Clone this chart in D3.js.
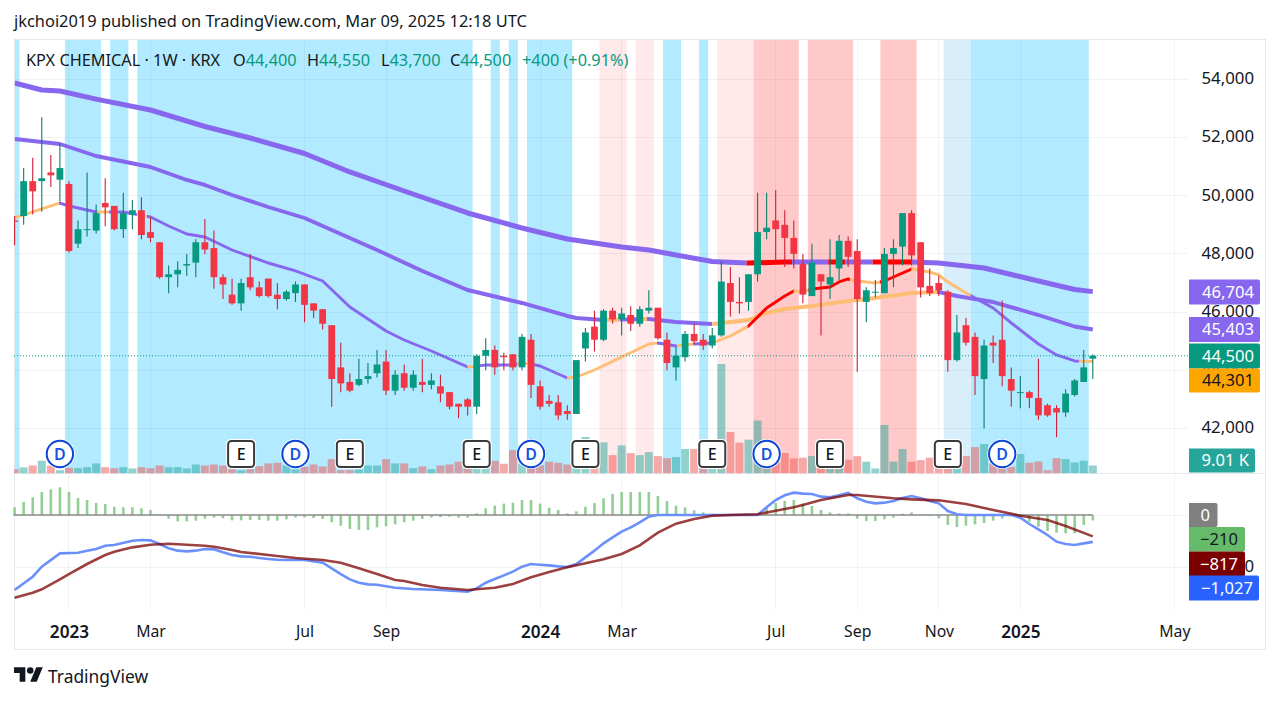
<!DOCTYPE html>
<html>
<head>
<meta charset="utf-8">
<style>
	html, body { margin: 0; padding: 0; background: #fff; }
	svg { display: block; }
	text { font-family: "Noto Sans", sans-serif; fill: #131722; }
</style>
<script src="https://cdn.jsdelivr.net/npm/d3@7"></script>
</head>
<body>
<div id="chart"></div>
<script>
// weekly candles, index 0 = 2022-11-21, index 119 = 2025-03-03
var opens = [
	49150,49300,50500,50500,50800,50550,50400,48350,48850,48800,
	49750,49650,48850,49350,49500,48750,48400,47200,47300,47600,
	47700,48400,48200,47200,46600,46300,47200,46850,47150,46600,
	46450,46650,46950,46300,46100,45550,44100,43600,43500,43700,
	43900,44300,43300,43900,43400,43600,43500,43450,43250,42850,
	43000,42750,44500,44700,44500,44550,44100,45050,43450,42950,
	42900,42600,42500,44750,45500,45050,46050,45750,45900,45600,
	46050,46150,45050,44100,44450,45250,45050,44850,45200,47000,
	46350,46350,47300,48750,49150,49000,48550,47650,46550,47300,
	46950,47500,48450,48100,46350,46700,46650,48000,48250,49400,
	48400,46900,47000,46700,44350,45550,45150,43700,44950,45050,
	43700,43250,43250,43050,42800,42700,42550,43150,43600,44400
];
var highs = [
	49300,50950,51300,52700,51400,51800,50500,49150,50800,49700,
	50600,49650,50100,49850,49950,49250,48400,47600,47750,48000,
	48500,49200,48800,47300,47150,47150,48000,47050,47150,47000,
	46750,47050,46950,46300,46100,45550,44950,43900,44400,44250,
	44700,44700,44000,44200,44000,44400,43900,43850,43250,42850,
	43050,44550,45100,44850,44600,44550,45250,45250,43650,43150,
	43150,42800,44350,45450,46050,46100,46150,46150,46200,46200,
	46750,46150,45300,44800,45350,45600,45250,45450,47750,47550,
	47200,47300,50100,50100,50200,49500,49150,48000,48350,47300,
	48500,48650,48600,48500,46850,47100,48200,48500,49400,49500,
	48400,47500,47250,46750,45900,45800,45300,45050,45200,46400,
	44100,43800,43300,44400,42850,42800,43350,43700,44700,44550
];
var lows = [
	48300,49000,49350,49450,50300,49800,48050,48200,48600,48700,
	48950,48800,48550,48850,48500,48400,47150,46650,46850,47250,
	47200,48000,46800,46450,46250,46050,46750,46500,46500,46100,
	46400,46350,45650,45800,45400,42750,43250,43250,43450,43550,
	43750,43150,43150,43300,43300,43250,43350,42900,42650,42350,
	42450,42500,44000,43850,44000,44000,44000,43050,42650,42750,
	42300,42300,42500,44300,44650,45000,45600,45200,45350,45500,
	45950,45050,44000,43650,44300,44900,44700,44750,45150,45850,
	45950,46050,47050,48500,47700,47550,47500,46300,46550,45200,
	46450,47100,47550,43950,45650,46500,46650,46850,47600,47600,
	46500,46550,46550,43950,44300,44850,43150,42000,44250,43450,
	42750,42700,42700,42300,42400,41700,42400,43100,43600,43700
];
var closes = [
	49100,50500,50150,50600,50700,50950,48100,48850,48850,49400,
	49600,48850,49400,49500,48650,48550,47200,47300,47450,47650,
	48400,48150,47200,46950,46300,47000,46850,46550,46550,46450,
	46700,46950,46250,46050,45600,43700,43550,43300,43700,43800,
	44200,43300,43850,43400,43850,43500,43650,43200,42750,42750,
	42750,44500,44700,44100,44450,44100,45150,43500,42750,42850,
	42450,42500,44350,45300,45050,46050,45750,45950,45600,46100,
	46150,45100,44250,44500,45250,45000,44850,45200,47050,46350,
	46300,47300,48750,48900,48850,48550,48000,46600,47700,47050,
	47200,48450,47900,46450,46750,46700,48000,48200,49400,47950,
	46850,46650,46750,44350,45300,44950,43800,44850,44850,43800,
	43300,43250,43050,42450,42450,42550,43200,43650,44100,44500
];
// volume in thousands
var volumes = [
	4.8,6.8,9,14.3,9,3.7,6.4,6,7.1,11.3,
	7.1,6,7.1,5.6,7.1,6,9,7.1,7.1,5.6,
	10.1,9,10.1,9,4.8,3.7,4.8,8.2,11.3,12,
	9,4.5,7.5,10.1,7.9,16.1,3.7,3.7,4.5,9,
	9,16.1,11.3,11.3,6,7.9,4.8,9,10.1,13.2,
	6.8,6.8,6.8,14.3,10.9,26.2,11.3,6.8,9.3,13.2,
	12,10.1,15.8,40.9,13.5,34.9,20.6,31.5,22.9,20.6,
	24,19.5,17.2,18.4,27.4,27.4,13.5,13.5,122.7,46.5,
	34.6,37.9,59.3,16.9,20.3,22.9,16.9,17.7,19.5,11.3,
	11.3,11.3,15.4,19.5,13.2,5.6,54.4,13.2,27.4,13.2,
	15,17.7,9,11.3,9,19.5,29.6,33,11.3,9,
	7.5,21.7,12,13.5,3.7,17.2,16.1,12.4,14.3,9.01
];

// moving averages, read at the weeks in *Idx
var maSlowIdx = [0,3,5,9,15,21,26,32,37,43,50,56,61,67,70,73,77,81,85,92,99,102,107,113,117,119];
var maSlowVals = [53873,53632,53598,53320,52945,52378,51983,51450,50815,50162,49406,48890,48512,48237,48134,47962,47739,47687,47722,47722,47722,47687,47516,47069,46777,46704];
var maMidIdx = [0,5,9,15,19,21,24,28,32,35,40,45,50,56,61,62,65,70,73,77,81,83,85,88,92,95,99,102,104,108,113,117,119];
var maMidVals = [51949,51777,51364,50986,50540,50368,50024,49612,49234,48821,48134,47413,46760,46313,45866,45797,45729,45763,45660,45591,45729,45969,46107,46210,46382,46485,46657,46691,46553,46347,45900,45505,45403];
var maFastIdx = [0,5,6,9,12,15,17,19,21,24,28,31,34,37,39,41,43,46,50,52,55,56,57,58,61,62,64,67,70,71,73,75,77,79,81,83,85,86,87,88,90,91,92,93,95,96,97,99,101,102,103,105,106,108,110,113,115,117,119];
var maFastVals = [49234,49749,49646,49440,49440,49268,48959,48684,48581,48134,47687,47413,47069,46175,45763,45351,45041,44663,44114,44182,44182,44251,44216,44148,43736,43770,44010,44457,44904,44938,44835,44904,44938,45179,45523,46141,46553,46725,46691,46794,46863,47035,47138,47069,47000,47069,47206,47481,47378,47275,47035,46657,46485,46141,45626,44904,44526,44320,44301];

// colour state of each average: [from week, to week, state]
var maSlowStates = [[0,80.8,"below"],[80.8,85.8,"strong"],[85.8,89.8,"below"],[89.8,91.7,"strong"],[91.7,94.7,"below"],[94.7,99,"strong"],[99,119.5,"below"]];
var maMidStates = [[0,65.4,"below"],[65.4,66.8,"above"],[66.8,68.8,"below"],[68.8,69.8,"above"],[69.8,77,"below"],[77,101.8,"above"],[101.8,119.5,"below"]];
var maFastStates = [[0,4.9,"above"],[4.9,9.1,"below"],[9.1,10.4,"above"],[10.4,13.5,"below"],[13.5,14.6,"above"],[14.6,50,"below"],[50,51.2,"above"],[51.2,55.5,"below"],[55.5,56.7,"above"],[56.7,61,"below"],[61,70.9,"above"],[70.9,73.1,"below"],[73.1,74.9,"above"],[74.9,77,"below"],[77,80.9,"above"],[80.9,86,"strong"],[86,87.6,"above"],[87.6,92.2,"strong"],[92.2,95.5,"above"],[95.5,99,"strong"],[99,105.5,"above"],[105.5,117.5,"below"],[117.5,119.5,"above"]];

// background bands: [first week, last week, kind]
var bands = [
	[0,0,"blue"],[6,9,"blue"],[11,12,"blue"],[14,50,"blue"],[53,53,"blue"],[55,55,"blue"],[57,61,"blue"],
	[65,67,"blush"],[69,70,"blush"],[72,73,"blue"],[76,76,"blue"],[78,81,"blush"],
	[82,86,"rose"],[88,92,"rose"],[96,99,"rose"],[103,105,"pale"],[106,118,"blue"]
];

// MACD pane
var macdIdx = [0,2,3,5,7,8,9,10,11,13,14,15,16,17,18,19,20,21,22,23,24,25,26,27,28,29,30,32,34,35,36,37,38,39,40,42,44,47,50,51,52,53,54,55,56,57,58,59,60,61,62,63,64,65,66,67,68,69,70,71,82,83,84,85,86,87,88,89,90,91,92,93,94,95,96,97,98,99,100,101,102,103,104,105,110,111,112,113,114,115,116,117,118,119];
var macdVals = [-2869,-2359,-1976,-1466,-1441,-1364,-1300,-1173,-1148,-982,-956,-969,-1109,-1275,-1364,-1390,-1364,-1300,-1313,-1428,-1530,-1581,-1594,-1645,-1683,-1709,-1721,-1721,-1823,-2040,-2257,-2461,-2588,-2652,-2665,-2780,-2830,-2869,-2933,-2805,-2588,-2448,-2308,-2168,-1976,-1874,-1900,-1925,-1964,-1989,-1874,-1619,-1364,-1084,-854,-638,-472,-281,-64,0,0,293,574,752,854,816,803,701,676,752,842,638,510,446,472,536,650,727,638,536,446,153,26,0,0,-102,-344,-548,-765,-1020,-1109,-1148,-1084,-1027];
var signalIdx = [0,2,3,5,6,8,10,11,13,15,17,19,21,22,24,25,28,31,34,36,38,40,42,43,45,47,50,53,55,57,59,61,63,65,67,69,71,73,75,77,79,82,84,86,87,89,92,93,97,99,102,105,108,111,114,116,119];
var signalVals = [-3162,-2971,-2843,-2461,-2257,-1874,-1530,-1403,-1237,-1135,-1097,-1135,-1173,-1211,-1339,-1415,-1530,-1645,-1721,-1823,-2040,-2257,-2486,-2525,-2678,-2780,-2869,-2780,-2639,-2384,-2180,-2002,-1849,-1696,-1492,-1160,-676,-332,-153,-26,0,26,166,300,383,574,765,765,638,599,561,421,191,-26,-191,-421,-817];
var histVals = [
	293,497,676,880,982,1058,880,650,574,459,
	421,319,293,293,255,191,13,-140,-242,-242,
	-217,-140,-102,-128,-204,-204,-191,-191,-217,-217,
	-166,-102,-89,-115,-153,-280,-408,-536,-574,-574,
	-472,-434,-357,-280,-217,-153,-102,-77,-64,-102,
	-102,64,255,357,434,472,574,574,434,280,
	191,64,140,319,459,638,803,880,880,880,
	880,727,536,357,293,179,102,51,26,13,
	13,13,13,293,459,536,574,446,344,191,
	102,64,64,-140,-230,-230,-166,-102,51,102,
	26,-38,-128,-383,-459,-408,-357,-306,-217,-140,
	0,-128,-255,-446,-612,-676,-701,-701,-383,-210
];

// tick labels
var priceTicks = [54000,52000,50000,48000,46000,44000,42000];
var macdTicks = [0,-2000];
var timeTickIdx = [6,15,32,41,58,67,84,93,102,111,128];
var timeTickLabels = ["2023","Mar","Jul","Sep","2024","Mar","Jul","Sep","Nov","2025","May"];
var yearLabels = ["2023","2024","2025"];

// event markers by week
var dividendIdx = [5,31,57,83,109];
var earningsIdx = [25,37,51,63,77,90,103];

var lastClose = 44500;

var WIDTH = 1280, HEIGHT = 701;
var LEFT = 14, PLOT_RIGHT = 1188, RIGHT = 1265;
var TOP = 39, PRICE_BOTTOM = 473.5, MACD_BOTTOM = 610, AXIS_BOTTOM = 649.5;

var UP = "#089981", DOWN = "#f23645";
var BAND_COLORS = { blue: "#b2ebff", blush: "#ffe9ea", rose: "#ffc9c9", pale: "#d8eefa" };
var STATE_COLORS = { below: "#8667ee", above: "#ffbe73", strong: "#ff0000" };

var x = d3.scaleLinear().domain([0, 119]).range([14.6, 1092.8]);
var y = d3.scaleLinear().domain([42000, 54000]).range([428.5, 79.3]);
var yVol = d3.scaleLinear().domain([0, 122.7]).range([PRICE_BOTTOM, 364]);
var yMacd = d3.scaleLinear().domain([-2000, 0]).range([567.3, 515]);

var svg = d3.select("#chart").append("svg")
	.attr("width", WIDTH)
	.attr("height", HEIGHT)
	.attr("viewBox", "0 0 " + WIDTH + " " + HEIGHT);
var defs = svg.append("defs");

defs.append("clipPath").attr("id", "plot-clip")
	.append("rect")
	.attr("x", LEFT).attr("y", TOP)
	.attr("width", PLOT_RIGHT - LEFT).attr("height", PRICE_BOTTOM - TOP);

svg.append("text")
	.attr("x", 14).attr("y", 27)
	.style("font-size", "16.4px")
	.text("jkchoi2019 published on TradingView.com, Mar 09, 2025 12:18 UTC");

// background bands
svg.append("g").attr("clip-path", "url(#plot-clip)")
	.selectAll("rect").data(bands).enter().append("rect")
	.attr("x", function(d) { return x(d[0] - 0.45); })
	.attr("width", function(d) { return x(d[1] + 0.5) - x(d[0] - 0.5); })
	.attr("y", TOP)
	.attr("height", PRICE_BOTTOM - TOP)
	.attr("fill", function(d) { return BAND_COLORS[d[2]]; });

// grid over the bands, faint enough to let them through
var grid = svg.append("g")
	.attr("stroke", "rgba(42,46,57,0.06)")
	.attr("stroke-width", 1)
	.attr("shape-rendering", "crispEdges");
priceTicks.forEach(function(p) {
	grid.append("line").attr("x1", LEFT).attr("x2", PLOT_RIGHT).attr("y1", y(p)).attr("y2", y(p));
});
macdTicks.forEach(function(m) {
	grid.append("line").attr("x1", LEFT).attr("x2", PLOT_RIGHT).attr("y1", yMacd(m)).attr("y2", yMacd(m));
});
timeTickIdx.forEach(function(i) {
	grid.append("line").attr("x1", x(i)).attr("x2", x(i)).attr("y1", TOP).attr("y2", MACD_BOTTOM);
});

// frame
var frame = svg.append("g")
	.attr("stroke", "#e6e8ee")
	.attr("stroke-width", 1)
	.attr("shape-rendering", "crispEdges");
frame.append("line").attr("x1", LEFT).attr("x2", RIGHT).attr("y1", TOP).attr("y2", TOP);
frame.append("line").attr("x1", LEFT).attr("x2", RIGHT).attr("y1", PRICE_BOTTOM).attr("y2", PRICE_BOTTOM);
frame.append("line").attr("x1", LEFT).attr("x2", RIGHT).attr("y1", AXIS_BOTTOM).attr("y2", AXIS_BOTTOM);
frame.append("line").attr("x1", LEFT).attr("x2", LEFT).attr("y1", TOP).attr("y2", AXIS_BOTTOM);
frame.append("line").attr("x1", RIGHT).attr("x2", RIGHT).attr("y1", TOP).attr("y2", AXIS_BOTTOM);

// volume
svg.append("g").attr("clip-path", "url(#plot-clip)")
	.selectAll("rect").data(volumes).enter().append("rect")
	.attr("x", function(d, i) { return x(i) - 4; })
	.attr("width", 8)
	.attr("y", function(d) { return yVol(d); })
	.attr("height", function(d) { return PRICE_BOTTOM - yVol(d); })
	.attr("fill", function(d, i) { return closes[i] >= opens[i] ? "#26a69a" : "#ef5350"; })
	.attr("fill-opacity", 0.5);

// moving averages, one clipped copy of the path per colour state
var clipCount = 0;
function drawAverage(idx, vals, states, width) {
	var points = idx.map(function(w, k) { return [w, vals[k]]; });
	var line = d3.line()
		.x(function(d) { return x(d[0]); })
		.y(function(d) { return y(d[1]); });
	var g = svg.append("g").attr("clip-path", "url(#plot-clip)");
	states.forEach(function(s) {
		var id = "state-clip-" + (clipCount++);
		defs.append("clipPath").attr("id", id)
			.append("rect")
			.attr("x", x(s[0])).attr("y", TOP)
			.attr("width", x(s[1]) - x(s[0])).attr("height", PRICE_BOTTOM - TOP);
		g.append("g").attr("clip-path", "url(#" + id + ")")
			.append("path")
			.attr("d", line(points))
			.attr("fill", "none")
			.attr("stroke", STATE_COLORS[s[2]])
			.attr("stroke-width", width)
			.attr("stroke-linejoin", "round");
	});
}
drawAverage(maSlowIdx, maSlowVals, maSlowStates, 5);
drawAverage(maMidIdx, maMidVals, maMidStates, 3.9);
drawAverage(maFastIdx, maFastVals, maFastStates, 2.9);

// last price line
svg.append("line")
	.attr("x1", LEFT).attr("x2", PLOT_RIGHT)
	.attr("y1", y(lastClose)).attr("y2", y(lastClose))
	.attr("stroke", UP)
	.attr("stroke-width", 1)
	.attr("stroke-dasharray", "1,2");

// candles
var candles = svg.append("g").attr("clip-path", "url(#plot-clip)")
	.selectAll("g").data(closes).enter().append("g");
candles.append("line")
	.attr("x1", function(d, i) { return x(i); })
	.attr("x2", function(d, i) { return x(i); })
	.attr("y1", function(d, i) { return y(highs[i]); })
	.attr("y2", function(d, i) { return y(lows[i]); })
	.attr("stroke", function(d, i) { return closes[i] >= opens[i] ? "#0a7d69" : "#d01f35"; })
	.attr("stroke-width", 1.1);
candles.append("rect")
	.attr("x", function(d, i) { return x(i) - 3.4; })
	.attr("width", 6.8)
	.attr("y", function(d, i) { return y(Math.max(opens[i], closes[i])); })
	.attr("height", function(d, i) { return Math.max(1, Math.abs(y(opens[i]) - y(closes[i]))); })
	.attr("fill", function(d, i) { return closes[i] >= opens[i] ? UP : DOWN; });

// macd pane
svg.append("g")
	.selectAll("rect").data(histVals).enter().append("rect")
	.attr("x", function(d, i) { return x(i) - 1.3; })
	.attr("width", 2.6)
	.attr("y", function(d) { return Math.min(yMacd(d), yMacd(0)); })
	.attr("height", function(d) { return Math.abs(yMacd(d) - yMacd(0)); })
	.attr("fill", "#93cf95");
svg.append("line")
	.attr("x1", x(0) - 1).attr("x2", x(119))
	.attr("y1", yMacd(0)).attr("y2", yMacd(0))
	.attr("stroke", "#8a8a8a")
	.attr("stroke-width", 1.3);

var macdLine = d3.line()
	.x(function(d) { return x(d[0]); })
	.y(function(d) { return yMacd(d[1]); });
svg.append("path")
	.attr("d", macdLine(macdIdx.map(function(w, k) { return [w, macdVals[k]]; })))
	.attr("fill", "none")
	.attr("stroke", "#6c90fb")
	.attr("stroke-width", 2.6);
svg.append("path")
	.attr("d", macdLine(signalIdx.map(function(w, k) { return [w, signalVals[k]]; })))
	.attr("fill", "none")
	.attr("stroke", "rgba(123,0,0,0.75)")
	.attr("stroke-width", 2.6);

// markers
var markers = svg.append("g");
var MARKER_Y = 454;
dividendIdx.forEach(function(i) {
	markers.append("circle").attr("cx", x(i)).attr("cy", MARKER_Y).attr("r", 15).attr("fill", "#fff");
	markers.append("circle").attr("cx", x(i)).attr("cy", MARKER_Y).attr("r", 13.2)
		.attr("fill", "#fff").attr("stroke", "#0c46d6").attr("stroke-width", 2);
	markers.append("text").attr("x", x(i)).attr("y", MARKER_Y + 5.8)
		.attr("text-anchor", "middle")
		.style("font-size", "16px").style("font-weight", 600).style("fill", "#1554e0")
		.text("D");
});
earningsIdx.forEach(function(i) {
	markers.append("rect").attr("x", x(i) - 15).attr("y", MARKER_Y - 15).attr("width", 30).attr("height", 30)
		.attr("rx", 5).attr("fill", "#fff");
	markers.append("rect").attr("x", x(i) - 13).attr("y", MARKER_Y - 13).attr("width", 26).attr("height", 26)
		.attr("rx", 3.5).attr("fill", "#fff").attr("stroke", "#3a3a3a").attr("stroke-width", 2);
	markers.append("text").attr("x", x(i)).attr("y", MARKER_Y + 5.8)
		.attr("text-anchor", "middle")
		.style("font-size", "16px").style("font-weight", 500)
		.text("E");
});

// axes
function styleAxis(g) {
	g.select(".domain").remove();
	g.selectAll(".tick line").remove();
	g.selectAll("text").attr("fill", "#131722").style("font-size", "16.8px");
}
svg.append("g")
	.attr("transform", "translate(" + 1254 + ",-1)")
	.call(d3.axisLeft(y).tickValues(priceTicks).tickFormat(d3.format(",")).tickSize(0).tickPadding(0))
	.call(styleAxis);
svg.append("g")
	.attr("transform", "translate(" + 1254 + ",-1)")
	.call(d3.axisLeft(yMacd).tickValues([-2000]).tickFormat(d3.format(",")).tickSize(0).tickPadding(0))
	.call(styleAxis);
svg.append("g")
	.attr("transform", "translate(0,626)")
	.call(d3.axisBottom(x).tickValues(timeTickIdx).tickSize(0).tickPadding(0)
		.tickFormat(function(d, k) { return timeTickLabels[k]; }))
	.call(styleAxis)
	.selectAll("text")
	.style("font-weight", function(d, k) { return yearLabels.indexOf(timeTickLabels[k]) >= 0 ? 600 : 400; })
	.style("font-size", function(d, k) { return yearLabels.indexOf(timeTickLabels[k]) >= 0 ? "17.2px" : "15.8px"; });

// right hand value tags
var tags = [
	{ text: "46,704", y0: 279.5, y1: 304.5, x1: 1260, fill: "#8667ee", color: "#fff", cx: 1254 },
	{ text: "45,403", y0: 317, y1: 342, x1: 1260, fill: "#8667ee", color: "#fff", cx: 1254 },
	{ text: "44,500", y0: 343.5, y1: 368.5, x1: 1260, fill: "#089981", color: "#fff", cx: 1254 },
	{ text: "44,301", y0: 368.5, y1: 392.5, x1: 1260, fill: "#ffa500", color: "#131722", cx: 1254 },
	{ text: "9.01 K", y0: 448.5, y1: 472.5, x1: 1255, fill: "#26a69a", color: "#fff", cx: 1249 },
	{ text: "0", y0: 503, y1: 527, x1: 1217.5, fill: "#808080", color: "#fff", cx: 1210 },
	{ text: "\u2212210", y0: 527, y1: 551.5, x1: 1245, fill: "#66bb6a", color: "#131722", cx: 1238 },
	{ text: "\u2212817", y0: 551.5, y1: 576.5, x1: 1245, fill: "#7b0000", color: "#fff", cx: 1238 },
	{ text: "\u22121,027", y0: 575.5, y1: 600.5, x1: 1259, fill: "#2962ff", color: "#fff", cx: 1253 }
];
var tagGroup = svg.append("g");
tags.forEach(function(t) {
	tagGroup.append("path")
		.attr("d", "M1189," + t.y0 + "H" + (t.x1 - 2) + "Q" + t.x1 + "," + t.y0 + " " + t.x1 + "," + (t.y0 + 2)
			+ "V" + (t.y1 - 2) + "Q" + t.x1 + "," + t.y1 + " " + (t.x1 - 2) + "," + t.y1 + "H1189Z")
		.attr("fill", t.fill);
	tagGroup.append("text")
		.attr("x", t.cx).attr("y", (t.y0 + t.y1) / 2 + 5.8)
		.attr("text-anchor", "end")
		.style("font-size", "16.6px")
		.style("fill", t.color)
		.text(t.text);
});

// legend
var legend = svg.append("text").attr("x", 26).attr("y", 66).style("font-size", "16.3px");
legend.append("tspan").text("KPX CHEMICAL \u00b7 1W \u00b7 KRX");
[["O", "44,400", 233], ["H", "44,550", 307], ["L", "43,700", 381], ["C", "44,500", 450]].forEach(function(v) {
	legend.append("tspan").attr("x", v[2]).text(v[0]);
	legend.append("tspan").style("fill", UP).text(v[1]);
});
legend.append("tspan").attr("x", 522).style("fill", UP).text("+400 (+0.91%)");

// footer logo
var logo = svg.append("g").attr("transform", "translate(14,664) scale(0.81)").attr("fill", "#131722");
logo.append("path").attr("d", "M14 22H7V11H0V4h14v18zM28 22h-8l7.5-18h8L28 22z");
logo.append("circle").attr("cx", 20).attr("cy", 8).attr("r", 4);
svg.append("text")
	.attr("x", 48).attr("y", 683)
	.style("font-size", "17.4px")
	.text("TradingView");
</script>
</body>
</html>
